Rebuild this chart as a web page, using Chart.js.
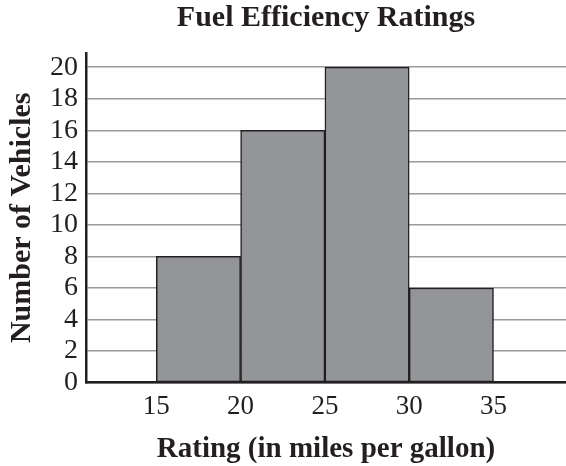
<!DOCTYPE html>
<html>
<head>
<meta charset="utf-8">
<script src="https://cdn.jsdelivr.net/npm/chart.js@4"></script>
<style>
html,body{margin:0;padding:0;background:#fff;}
#wrap{width:566px;height:466px;}
</style>
</head>
<body>
<div id="wrap"><canvas id="c" width="566" height="466"></canvas></div>
<script>
const binStarts = [15, 20, 25, 30];
const binWidth = 5;
const counts = [8, 16, 20, 6];
const xTicks = [15, 20, 25, 30, 35];
const yTicks = [0, 2, 4, 6, 8, 10, 12, 14, 16, 18, 20];
const titleText = 'Fuel Efficiency Ratings';
const xTitle = 'Rating (in miles per gallon)';
const yTitle = 'Number of Vehicles';

const points = binStarts.map((s, i) => ({ x: s + binWidth / 2, y: counts[i] }));
const serif = '"Liberation Serif", "DejaVu Serif", serif';

new Chart(document.getElementById('c'), {
  type: 'bar',
  data: {
    datasets: [{
      data: points,
      backgroundColor: '#939598',
      borderColor: '#231f20',
      borderWidth: 1.5,
      borderSkipped: false,
      barPercentage: 1,
      categoryPercentage: 1
    }]
  },
  options: {
    responsive: false,
    animation: false,
    devicePixelRatio: 1,
    layout: { padding: { top: 0, right: 0, bottom: 2, left: 4 } },
    plugins: {
      legend: { display: false },
      tooltip: { enabled: false },
      title: {
        display: true,
        fullSize: false,
        text: titleText,
        color: '#231f20',
        font: { family: serif, size: 30, weight: 'bold' },
        padding: { top: 0, bottom: 17 }
      }
    },
    scales: {
      x: {
        type: 'linear',
        offset: false,
        min: 10.83,
        max: 39.3,
        afterBuildTicks: (axis) => { axis.ticks = xTicks.map(v => ({ value: v })); },
        grid: { display: false, drawTicks: false, offset: false },
        border: { display: true, color: '#231f20', width: 2.5 },
        ticks: {
          color: '#231f20',
          font: { family: serif, size: 27 },
          padding: 8,
          maxRotation: 0,
          autoSkip: false
        },
        title: {
          display: true,
          text: xTitle,
          color: '#231f20',
          font: { family: serif, size: 29, weight: 'bold', lineHeight: 1.0 },
          padding: { top: 4, bottom: 0 }
        }
      },
      y: {
        min: 0,
        max: 20.9,
        afterBuildTicks: (axis) => { axis.ticks = yTicks.map(v => ({ value: v })); },
        grid: { color: '#9a9a9a', lineWidth: 1.5, drawTicks: false },
        border: { display: true, color: '#231f20', width: 2.5 },
        ticks: {
          color: '#231f20',
          font: { family: serif, size: 28 },
          padding: 8,
          autoSkip: false
        },
        title: {
          display: true,
          text: yTitle,
          color: '#231f20',
          font: { family: serif, size: 30, weight: 'bold' },
          padding: { top: 0, bottom: 2 }
        }
      }
    }
  }
});
</script>
</body>
</html>
